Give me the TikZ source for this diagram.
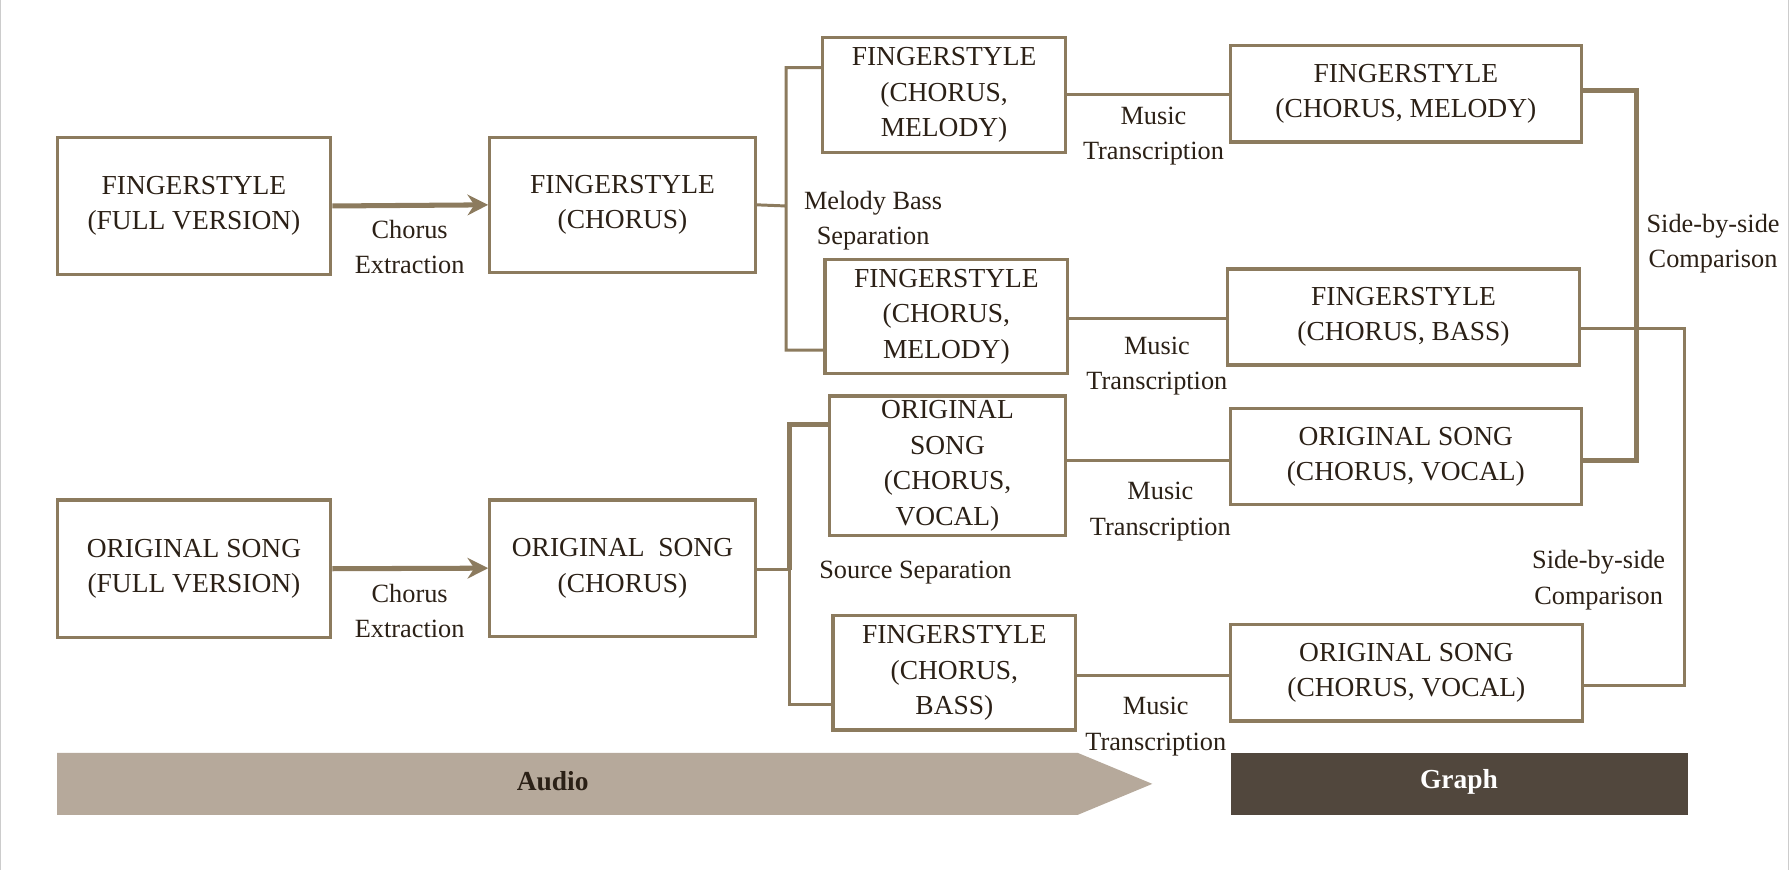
\documentclass[tikz,border=0pt]{standalone}
\usepackage{fontspec}
\setmainfont{Liberation Serif}
\usetikzlibrary{arrows.meta,positioning}
\definecolor{line}{HTML}{8C7B5E}
\definecolor{ink}{HTML}{2B2016}
\definecolor{audio}{HTML}{B6A99B}
\definecolor{graph}{HTML}{51473D}
\tikzset{
  box/.style={draw=line, line width=1.4pt, align=center, text=ink, inner sep=0pt, font=\fontsize{12}{15.5}\selectfont},
  lbl/.style={align=center, text=ink, font=\fontsize{11.5}{15.5}\selectfont},
  conn/.style={draw=line, line width=1.3pt},
  thick conn/.style={draw=line, line width=2.2pt},
}
\begin{document}
\begin{tikzpicture}[x=0.5pt,y=0.5pt,yscale=-1]
\useasboundingbox (0,0) rectangle (1566,760);
\draw[gray!40] (0.5,0) -- (0.5,760) (1563,0) -- (1563,760);

% Audio stage
\node[box, minimum width=119.5pt, minimum height=60pt] (fsfull) at (169.5,180) {FINGERSTYLE\\(FULL VERSION)};
\node[box, minimum width=116pt, minimum height=59pt] (fschorus) at (544,179) {FINGERSTYLE\\(CHORUS)};
\node[box, minimum width=119.5pt, minimum height=60pt] (osfull) at (169.5,497) {ORIGINAL SONG\\(FULL VERSION)};
\node[box, minimum width=116pt, minimum height=59.5pt] (oschorus) at (544,496.5) {ORIGINAL~ SONG\\(CHORUS)};

\node[box, minimum width=106pt, minimum height=50pt] (fsmel) at (825,83) {FINGERSTYLE\\(CHORUS,\\MELODY)};
\node[box, minimum width=106pt, minimum height=50pt] (fsmeltwo) at (827,276.5) {FINGERSTYLE\\(CHORUS,\\MELODY)};
\node[box, minimum width=103pt, minimum height=61pt] (osvoc) at (828,407) {ORIGINAL\\SONG\\(CHORUS,\\VOCAL)};
\node[box, minimum width=106pt, minimum height=50pt] (fsbass) at (834,588) {FINGERSTYLE\\(CHORUS,\\BASS)};

% Graph stage
\node[box, minimum width=153.5pt, minimum height=42pt] (gmel) at (1228.5,82) {FINGERSTYLE\\(CHORUS, MELODY)};
\node[box, minimum width=153.5pt, minimum height=42pt] (gbass) at (1226.5,277) {FINGERSTYLE\\(CHORUS, BASS)};
\node[box, minimum width=153.5pt, minimum height=42pt] (gvoc) at (1228.5,399) {ORIGINAL SONG\\(CHORUS, VOCAL)};
\node[box, minimum width=154pt, minimum height=42pt] (gvoctwo) at (1229,588) {ORIGINAL SONG\\(CHORUS, VOCAL)};

% extraction
\draw[thick conn, -{Stealth[length=9pt,width=9pt]}] (fsfull.east) -- (fschorus.west);
\draw[thick conn, -{Stealth[length=9pt,width=9pt]}] (osfull.east) -- (oschorus.west);
\node[lbl] (ext1) at (358,216) {Chorus\\Extraction};
\node[lbl] (ext2) at (358,534) {Chorus\\Extraction};

% separation
\coordinate (s1) at (687,180);
\draw[conn] (fschorus.east) -- (s1) (fsmel.west |- 0,59) -| (s1) |- (fsmeltwo.west |- 0,306);
\node[lbl] (sep1) at (763,193) {Melody Bass\\Separation};
\coordinate (s2) at (690,498);
\draw[conn] (oschorus.east |- s2) -- (s2);
\draw[thick conn] (osvoc.west |- 0,371) -- (690,371) -- (s2);
\draw[conn] (s2) |- (fsbass.west |- 0,616);
\node[lbl] (sep2) at (800,500) {Source Separation};

% transcription
\draw[conn] (fsmel) -- (gmel.west |- fsmel);
\draw[conn] (fsmeltwo.east |- 0,278) -- (gbass.west |- 0,278);
\draw[conn] (osvoc.east |- 0,402) -- (gvoc.west |- 0,402);
\draw[conn] (fsbass.east |- 0,590) -- (gvoctwo.west |- 0,590);
\node[lbl] (mt1) at (1008,119) {Music\\Transcription};
\node[lbl] (mt2) at (1011,320) {Music\\Transcription};
\node[lbl] (mt3) at (1014,447) {Music\\Transcription};
\node[lbl] (mt4) at (1010,635) {Music\\Transcription};

% comparison
\draw[thick conn] (gmel.east |- 0,79) -| (1430,402) -- (gvoc.east |- 0,402);
\draw[conn] (gbass.east |- 0,287) -| (1472,599) -- (gvoctwo.east |- 0,599);
\node[lbl] (cmp1) at (1497,213) {Side-by-side\\Comparison};
\node[lbl] (cmp2) at (1397,507) {Side-by-side\\Comparison};

% stage bars
\fill[audio] (50,658) -- (942,658) -- (1007,685) -- (942,712) -- (50,712) -- cycle;
\node[lbl, font=\bfseries\fontsize{12}{15}\selectfont] (audio) at (483,683) {Audio};
\fill[graph] (1076,658) rectangle (1475,712);
\node[lbl, text=white, font=\bfseries\fontsize{12}{15}\selectfont] (graph) at (1275,683) {Graph};
\end{tikzpicture}
\end{document}
